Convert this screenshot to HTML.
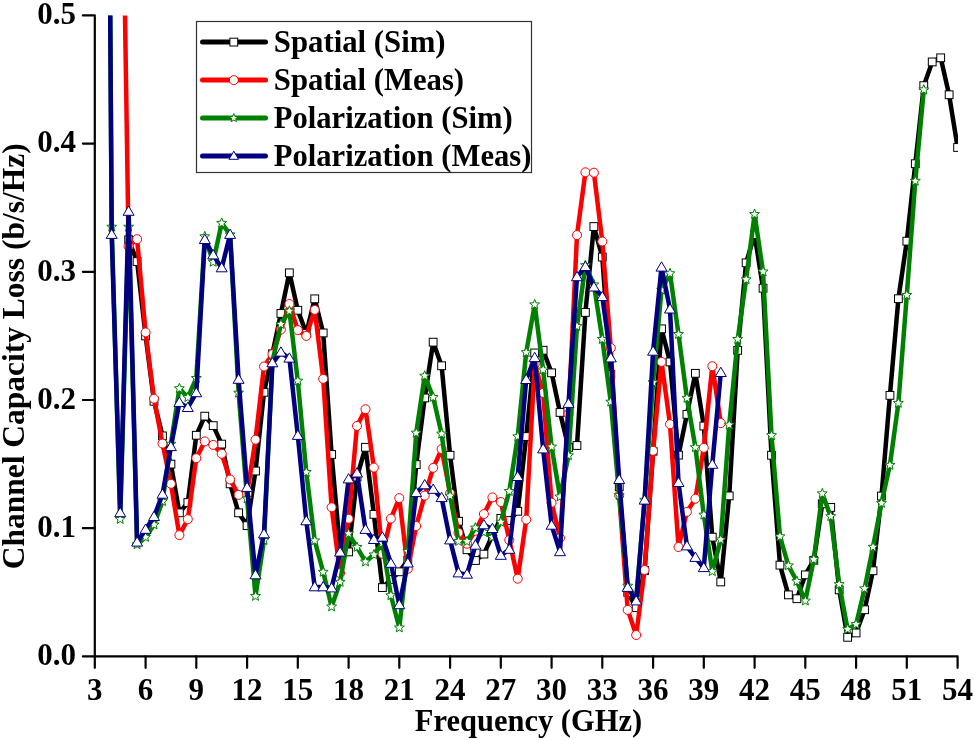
<!DOCTYPE html>
<html><head><meta charset="utf-8"><style>
html,body{margin:0;padding:0;background:#fff;width:975px;height:740px;overflow:hidden}
svg{display:block}
text{font-family:"Liberation Serif","Times New Roman",serif;font-weight:bold;fill:#000}
</style></head><body>
<svg width="975" height="740" viewBox="0 0 975 740">
<defs><clipPath id="c"><rect x="95" y="15.4" width="863" height="641"/></clipPath></defs>

<g stroke="#000" stroke-width="2.2" fill="none" stroke-linecap="round" stroke-linejoin="round">
<path d="M82.9,15.4 H94.8 V667.8 M82.9,656.4 H957.6 V667.8"/>
<line x1="82.9" y1="528.2" x2="94.8" y2="528.2"/>
<line x1="82.9" y1="400.0" x2="94.8" y2="400.0"/>
<line x1="82.9" y1="271.8" x2="94.8" y2="271.8"/>
<line x1="82.9" y1="143.6" x2="94.8" y2="143.6"/>
<line x1="145.6" y1="656.4" x2="145.6" y2="667.8"/>
<line x1="196.3" y1="656.4" x2="196.3" y2="667.8"/>
<line x1="247.1" y1="656.4" x2="247.1" y2="667.8"/>
<line x1="297.8" y1="656.4" x2="297.8" y2="667.8"/>
<line x1="348.6" y1="656.4" x2="348.6" y2="667.8"/>
<line x1="399.3" y1="656.4" x2="399.3" y2="667.8"/>
<line x1="450.1" y1="656.4" x2="450.1" y2="667.8"/>
<line x1="500.8" y1="656.4" x2="500.8" y2="667.8"/>
<line x1="551.6" y1="656.4" x2="551.6" y2="667.8"/>
<line x1="602.3" y1="656.4" x2="602.3" y2="667.8"/>
<line x1="653.1" y1="656.4" x2="653.1" y2="667.8"/>
<line x1="703.8" y1="656.4" x2="703.8" y2="667.8"/>
<line x1="754.6" y1="656.4" x2="754.6" y2="667.8"/>
<line x1="805.3" y1="656.4" x2="805.3" y2="667.8"/>
<line x1="856.1" y1="656.4" x2="856.1" y2="667.8"/>
<line x1="906.8" y1="656.4" x2="906.8" y2="667.8"/>
</g>
<g font-size="31">
<text x="76" y="665.2" text-anchor="end">0.0</text>
<text x="76" y="537.0" text-anchor="end">0.1</text>
<text x="76" y="408.8" text-anchor="end">0.2</text>
<text x="76" y="280.6" text-anchor="end">0.3</text>
<text x="76" y="152.4" text-anchor="end">0.4</text>
<text x="76" y="24.2" text-anchor="end">0.5</text>
<text x="94.8" y="700" text-anchor="middle">3</text>
<text x="145.6" y="700" text-anchor="middle">6</text>
<text x="196.3" y="700" text-anchor="middle">9</text>
<text x="247.1" y="700" text-anchor="middle">12</text>
<text x="297.8" y="700" text-anchor="middle">15</text>
<text x="348.6" y="700" text-anchor="middle">18</text>
<text x="399.3" y="700" text-anchor="middle">21</text>
<text x="450.1" y="700" text-anchor="middle">24</text>
<text x="500.8" y="700" text-anchor="middle">27</text>
<text x="551.6" y="700" text-anchor="middle">30</text>
<text x="602.3" y="700" text-anchor="middle">33</text>
<text x="653.1" y="700" text-anchor="middle">36</text>
<text x="703.8" y="700" text-anchor="middle">39</text>
<text x="754.6" y="700" text-anchor="middle">42</text>
<text x="805.3" y="700" text-anchor="middle">45</text>
<text x="856.1" y="700" text-anchor="middle">48</text>
<text x="906.8" y="700" text-anchor="middle">51</text>
<text x="957.6" y="700" text-anchor="middle">54</text>
</g>
<text x="528.5" y="731" font-size="31" text-anchor="middle" textLength="227.3" lengthAdjust="spacingAndGlyphs">Frequency (GHz)</text>
<text transform="translate(24,356.3) rotate(-90)" font-size="31" text-anchor="middle" textLength="425.9" lengthAdjust="spacingAndGlyphs">Channel Capacity Loss (b/s/Hz)</text>
<g clip-path="url(#c)">
<polyline points="128.6,239.7 137.1,261.5 145.6,335.9 154.0,401.3 162.5,435.9 170.9,464.1 179.4,512.8 187.8,502.6 196.3,435.3 204.8,416.2 213.2,425.6 221.7,444.1 230.1,483.8 238.6,512.8 247.1,525.6 255.5,471.0 264.0,392.3 272.4,353.8 280.9,313.5 289.4,272.8 297.8,310.3 306.3,333.3 314.7,298.9 323.2,333.0 331.6,454.5 340.1,550.0 348.6,551.9 357.0,476.9 365.5,447.3 373.9,514.4 382.4,587.6 390.9,579.5 399.3,571.8 407.8,560.2 416.2,464.6 424.7,397.9 433.2,342.2 441.6,365.8 450.1,455.3 458.5,521.3 467.0,549.7 475.4,560.5 483.9,554.1 492.4,535.3 500.8,518.3 509.3,520.5 517.7,511.3 526.2,436.5 534.7,353.0 543.1,350.3 551.6,372.8 560.0,412.4 568.5,447.4 577.0,445.5 585.4,312.4 593.9,226.5 602.3,257.1 610.8,374.4 619.2,486.8 627.7,592.3 636.2,607.7 644.6,570.5 653.1,451.3 661.5,328.8 670.0,361.9 678.5,455.1 686.9,414.4 695.4,373.3 703.8,426.0 712.3,537.2 720.8,581.9 729.2,495.9 737.7,350.4 746.1,262.8 754.6,234.6 763.0,288.2 771.5,455.3 780.0,565.1 788.4,594.9 796.9,598.7 805.3,574.9 813.8,560.2 822.3,503.8 830.7,507.4 839.2,589.9 847.6,637.3 856.1,632.9 864.6,609.7 873.0,570.8 881.5,496.0 889.9,395.4 898.4,298.7 906.8,241.2 915.3,163.7 923.8,85.7 932.2,61.9 940.7,57.8 949.1,94.8 957.6,147.4" fill="none" stroke="#000000" stroke-width="4.5" stroke-linejoin="round" stroke-linecap="round"/>
<g>
<rect x="124.74" y="235.85" width="7.8" height="7.8" fill="#fff" stroke="#000000" stroke-width="1"/>
<rect x="133.19" y="257.64" width="7.8" height="7.8" fill="#fff" stroke="#000000" stroke-width="1"/>
<rect x="141.65" y="332.00" width="7.8" height="7.8" fill="#fff" stroke="#000000" stroke-width="1"/>
<rect x="150.11" y="397.38" width="7.8" height="7.8" fill="#fff" stroke="#000000" stroke-width="1"/>
<rect x="158.57" y="432.00" width="7.8" height="7.8" fill="#fff" stroke="#000000" stroke-width="1"/>
<rect x="167.03" y="460.20" width="7.8" height="7.8" fill="#fff" stroke="#000000" stroke-width="1"/>
<rect x="175.49" y="508.92" width="7.8" height="7.8" fill="#fff" stroke="#000000" stroke-width="1"/>
<rect x="183.95" y="498.66" width="7.8" height="7.8" fill="#fff" stroke="#000000" stroke-width="1"/>
<rect x="192.41" y="431.36" width="7.8" height="7.8" fill="#fff" stroke="#000000" stroke-width="1"/>
<rect x="200.86" y="412.25" width="7.8" height="7.8" fill="#fff" stroke="#000000" stroke-width="1"/>
<rect x="209.32" y="421.74" width="7.8" height="7.8" fill="#fff" stroke="#000000" stroke-width="1"/>
<rect x="217.78" y="440.20" width="7.8" height="7.8" fill="#fff" stroke="#000000" stroke-width="1"/>
<rect x="226.24" y="479.94" width="7.8" height="7.8" fill="#fff" stroke="#000000" stroke-width="1"/>
<rect x="234.70" y="508.92" width="7.8" height="7.8" fill="#fff" stroke="#000000" stroke-width="1"/>
<rect x="243.16" y="521.74" width="7.8" height="7.8" fill="#fff" stroke="#000000" stroke-width="1"/>
<rect x="251.62" y="467.12" width="7.8" height="7.8" fill="#fff" stroke="#000000" stroke-width="1"/>
<rect x="260.08" y="388.41" width="7.8" height="7.8" fill="#fff" stroke="#000000" stroke-width="1"/>
<rect x="268.54" y="349.95" width="7.8" height="7.8" fill="#fff" stroke="#000000" stroke-width="1"/>
<rect x="276.99" y="309.56" width="7.8" height="7.8" fill="#fff" stroke="#000000" stroke-width="1"/>
<rect x="285.45" y="268.93" width="7.8" height="7.8" fill="#fff" stroke="#000000" stroke-width="1"/>
<rect x="293.91" y="306.36" width="7.8" height="7.8" fill="#fff" stroke="#000000" stroke-width="1"/>
<rect x="302.37" y="329.44" width="7.8" height="7.8" fill="#fff" stroke="#000000" stroke-width="1"/>
<rect x="310.83" y="294.95" width="7.8" height="7.8" fill="#fff" stroke="#000000" stroke-width="1"/>
<rect x="319.29" y="329.05" width="7.8" height="7.8" fill="#fff" stroke="#000000" stroke-width="1"/>
<rect x="327.75" y="450.59" width="7.8" height="7.8" fill="#fff" stroke="#000000" stroke-width="1"/>
<rect x="336.21" y="546.09" width="7.8" height="7.8" fill="#fff" stroke="#000000" stroke-width="1"/>
<rect x="344.66" y="548.02" width="7.8" height="7.8" fill="#fff" stroke="#000000" stroke-width="1"/>
<rect x="353.12" y="473.02" width="7.8" height="7.8" fill="#fff" stroke="#000000" stroke-width="1"/>
<rect x="361.58" y="443.41" width="7.8" height="7.8" fill="#fff" stroke="#000000" stroke-width="1"/>
<rect x="370.04" y="510.45" width="7.8" height="7.8" fill="#fff" stroke="#000000" stroke-width="1"/>
<rect x="378.50" y="583.66" width="7.8" height="7.8" fill="#fff" stroke="#000000" stroke-width="1"/>
<rect x="386.96" y="575.58" width="7.8" height="7.8" fill="#fff" stroke="#000000" stroke-width="1"/>
<rect x="395.42" y="567.89" width="7.8" height="7.8" fill="#fff" stroke="#000000" stroke-width="1"/>
<rect x="403.88" y="556.35" width="7.8" height="7.8" fill="#fff" stroke="#000000" stroke-width="1"/>
<rect x="412.34" y="460.71" width="7.8" height="7.8" fill="#fff" stroke="#000000" stroke-width="1"/>
<rect x="420.79" y="394.05" width="7.8" height="7.8" fill="#fff" stroke="#000000" stroke-width="1"/>
<rect x="429.25" y="338.28" width="7.8" height="7.8" fill="#fff" stroke="#000000" stroke-width="1"/>
<rect x="437.71" y="361.87" width="7.8" height="7.8" fill="#fff" stroke="#000000" stroke-width="1"/>
<rect x="446.17" y="451.35" width="7.8" height="7.8" fill="#fff" stroke="#000000" stroke-width="1"/>
<rect x="454.63" y="517.38" width="7.8" height="7.8" fill="#fff" stroke="#000000" stroke-width="1"/>
<rect x="463.09" y="545.84" width="7.8" height="7.8" fill="#fff" stroke="#000000" stroke-width="1"/>
<rect x="471.55" y="556.61" width="7.8" height="7.8" fill="#fff" stroke="#000000" stroke-width="1"/>
<rect x="480.01" y="550.20" width="7.8" height="7.8" fill="#fff" stroke="#000000" stroke-width="1"/>
<rect x="488.46" y="531.35" width="7.8" height="7.8" fill="#fff" stroke="#000000" stroke-width="1"/>
<rect x="496.92" y="514.43" width="7.8" height="7.8" fill="#fff" stroke="#000000" stroke-width="1"/>
<rect x="505.38" y="516.61" width="7.8" height="7.8" fill="#fff" stroke="#000000" stroke-width="1"/>
<rect x="513.84" y="507.38" width="7.8" height="7.8" fill="#fff" stroke="#000000" stroke-width="1"/>
<rect x="522.30" y="432.64" width="7.8" height="7.8" fill="#fff" stroke="#000000" stroke-width="1"/>
<rect x="530.76" y="349.05" width="7.8" height="7.8" fill="#fff" stroke="#000000" stroke-width="1"/>
<rect x="539.22" y="346.36" width="7.8" height="7.8" fill="#fff" stroke="#000000" stroke-width="1"/>
<rect x="547.68" y="368.92" width="7.8" height="7.8" fill="#fff" stroke="#000000" stroke-width="1"/>
<rect x="556.14" y="408.54" width="7.8" height="7.8" fill="#fff" stroke="#000000" stroke-width="1"/>
<rect x="564.59" y="443.53" width="7.8" height="7.8" fill="#fff" stroke="#000000" stroke-width="1"/>
<rect x="573.05" y="441.61" width="7.8" height="7.8" fill="#fff" stroke="#000000" stroke-width="1"/>
<rect x="581.51" y="308.54" width="7.8" height="7.8" fill="#fff" stroke="#000000" stroke-width="1"/>
<rect x="589.97" y="222.65" width="7.8" height="7.8" fill="#fff" stroke="#000000" stroke-width="1"/>
<rect x="598.43" y="253.16" width="7.8" height="7.8" fill="#fff" stroke="#000000" stroke-width="1"/>
<rect x="606.89" y="370.46" width="7.8" height="7.8" fill="#fff" stroke="#000000" stroke-width="1"/>
<rect x="615.35" y="482.89" width="7.8" height="7.8" fill="#fff" stroke="#000000" stroke-width="1"/>
<rect x="623.81" y="588.40" width="7.8" height="7.8" fill="#fff" stroke="#000000" stroke-width="1"/>
<rect x="632.26" y="603.78" width="7.8" height="7.8" fill="#fff" stroke="#000000" stroke-width="1"/>
<rect x="640.72" y="566.61" width="7.8" height="7.8" fill="#fff" stroke="#000000" stroke-width="1"/>
<rect x="649.18" y="447.38" width="7.8" height="7.8" fill="#fff" stroke="#000000" stroke-width="1"/>
<rect x="657.64" y="324.95" width="7.8" height="7.8" fill="#fff" stroke="#000000" stroke-width="1"/>
<rect x="666.10" y="358.02" width="7.8" height="7.8" fill="#fff" stroke="#000000" stroke-width="1"/>
<rect x="674.56" y="451.23" width="7.8" height="7.8" fill="#fff" stroke="#000000" stroke-width="1"/>
<rect x="683.02" y="410.46" width="7.8" height="7.8" fill="#fff" stroke="#000000" stroke-width="1"/>
<rect x="691.48" y="369.43" width="7.8" height="7.8" fill="#fff" stroke="#000000" stroke-width="1"/>
<rect x="699.94" y="422.12" width="7.8" height="7.8" fill="#fff" stroke="#000000" stroke-width="1"/>
<rect x="708.39" y="533.27" width="7.8" height="7.8" fill="#fff" stroke="#000000" stroke-width="1"/>
<rect x="716.85" y="578.02" width="7.8" height="7.8" fill="#fff" stroke="#000000" stroke-width="1"/>
<rect x="725.31" y="491.99" width="7.8" height="7.8" fill="#fff" stroke="#000000" stroke-width="1"/>
<rect x="733.77" y="346.49" width="7.8" height="7.8" fill="#fff" stroke="#000000" stroke-width="1"/>
<rect x="742.23" y="258.93" width="7.8" height="7.8" fill="#fff" stroke="#000000" stroke-width="1"/>
<rect x="750.69" y="230.72" width="7.8" height="7.8" fill="#fff" stroke="#000000" stroke-width="1"/>
<rect x="759.15" y="284.31" width="7.8" height="7.8" fill="#fff" stroke="#000000" stroke-width="1"/>
<rect x="767.61" y="451.35" width="7.8" height="7.8" fill="#fff" stroke="#000000" stroke-width="1"/>
<rect x="776.06" y="561.22" width="7.8" height="7.8" fill="#fff" stroke="#000000" stroke-width="1"/>
<rect x="784.52" y="590.96" width="7.8" height="7.8" fill="#fff" stroke="#000000" stroke-width="1"/>
<rect x="792.98" y="594.81" width="7.8" height="7.8" fill="#fff" stroke="#000000" stroke-width="1"/>
<rect x="801.44" y="570.96" width="7.8" height="7.8" fill="#fff" stroke="#000000" stroke-width="1"/>
<rect x="809.90" y="556.35" width="7.8" height="7.8" fill="#fff" stroke="#000000" stroke-width="1"/>
<rect x="818.36" y="499.94" width="7.8" height="7.8" fill="#fff" stroke="#000000" stroke-width="1"/>
<rect x="826.82" y="503.53" width="7.8" height="7.8" fill="#fff" stroke="#000000" stroke-width="1"/>
<rect x="835.28" y="585.96" width="7.8" height="7.8" fill="#fff" stroke="#000000" stroke-width="1"/>
<rect x="843.74" y="633.40" width="7.8" height="7.8" fill="#fff" stroke="#000000" stroke-width="1"/>
<rect x="852.19" y="629.04" width="7.8" height="7.8" fill="#fff" stroke="#000000" stroke-width="1"/>
<rect x="860.65" y="605.84" width="7.8" height="7.8" fill="#fff" stroke="#000000" stroke-width="1"/>
<rect x="869.11" y="566.86" width="7.8" height="7.8" fill="#fff" stroke="#000000" stroke-width="1"/>
<rect x="877.57" y="492.12" width="7.8" height="7.8" fill="#fff" stroke="#000000" stroke-width="1"/>
<rect x="886.03" y="391.48" width="7.8" height="7.8" fill="#fff" stroke="#000000" stroke-width="1"/>
<rect x="894.49" y="294.82" width="7.8" height="7.8" fill="#fff" stroke="#000000" stroke-width="1"/>
<rect x="902.95" y="237.26" width="7.8" height="7.8" fill="#fff" stroke="#000000" stroke-width="1"/>
<rect x="911.41" y="159.83" width="7.8" height="7.8" fill="#fff" stroke="#000000" stroke-width="1"/>
<rect x="919.86" y="81.75" width="7.8" height="7.8" fill="#fff" stroke="#000000" stroke-width="1"/>
<rect x="928.32" y="58.04" width="7.8" height="7.8" fill="#fff" stroke="#000000" stroke-width="1"/>
<rect x="936.78" y="53.93" width="7.8" height="7.8" fill="#fff" stroke="#000000" stroke-width="1"/>
<rect x="945.24" y="90.86" width="7.8" height="7.8" fill="#fff" stroke="#000000" stroke-width="1"/>
<rect x="953.70" y="143.55" width="7.8" height="7.8" fill="#fff" stroke="#000000" stroke-width="1"/>
</g>
<polyline points="120.2,-292.3 128.6,246.2 137.1,239.2 145.6,332.4 154.0,398.7 162.5,443.6 170.9,483.8 179.4,535.1 187.8,519.2 196.3,458.2 204.8,441.4 213.2,444.9 221.7,453.8 230.1,479.5 238.6,494.9 247.1,493.6 255.5,439.7 264.0,366.5 272.4,354.2 280.9,329.5 289.4,304.0 297.8,330.1 306.3,335.9 314.7,309.9 323.2,378.8 331.6,507.3 340.1,573.1 348.6,518.8 357.0,425.9 365.5,409.2 373.9,467.6 382.4,553.8 390.9,518.6 399.3,498.1 407.8,568.8 416.2,526.0 424.7,495.6 433.2,467.8 441.6,449.1 450.1,493.3 458.5,532.8 467.0,543.7 475.4,530.8 483.9,514.0 492.4,497.4 500.8,502.0 509.3,540.1 517.7,578.7 526.2,519.6 534.7,364.1 543.1,392.9 551.6,502.7 560.0,538.1 568.5,414.1 577.0,235.1 585.4,172.3 593.9,172.7 602.3,241.5 610.8,348.1 619.2,495.4 627.7,609.9 636.2,635.0 644.6,570.0 653.1,450.8 661.5,361.9 670.0,424.2 678.5,547.0 686.9,511.8 695.4,498.7 703.8,447.9 712.3,366.2 720.8,423.1" fill="none" stroke="#ff0000" stroke-width="4.5" stroke-linejoin="round" stroke-linecap="round"/>
<g>
<circle cx="128.6" cy="246.2" r="4.5" fill="#fff" stroke="#ff0000" stroke-width="1"/>
<circle cx="137.1" cy="239.2" r="4.5" fill="#fff" stroke="#ff0000" stroke-width="1"/>
<circle cx="145.6" cy="332.4" r="4.5" fill="#fff" stroke="#ff0000" stroke-width="1"/>
<circle cx="154.0" cy="398.7" r="4.5" fill="#fff" stroke="#ff0000" stroke-width="1"/>
<circle cx="162.5" cy="443.6" r="4.5" fill="#fff" stroke="#ff0000" stroke-width="1"/>
<circle cx="170.9" cy="483.8" r="4.5" fill="#fff" stroke="#ff0000" stroke-width="1"/>
<circle cx="179.4" cy="535.1" r="4.5" fill="#fff" stroke="#ff0000" stroke-width="1"/>
<circle cx="187.8" cy="519.2" r="4.5" fill="#fff" stroke="#ff0000" stroke-width="1"/>
<circle cx="196.3" cy="458.2" r="4.5" fill="#fff" stroke="#ff0000" stroke-width="1"/>
<circle cx="204.8" cy="441.4" r="4.5" fill="#fff" stroke="#ff0000" stroke-width="1"/>
<circle cx="213.2" cy="444.9" r="4.5" fill="#fff" stroke="#ff0000" stroke-width="1"/>
<circle cx="221.7" cy="453.8" r="4.5" fill="#fff" stroke="#ff0000" stroke-width="1"/>
<circle cx="230.1" cy="479.5" r="4.5" fill="#fff" stroke="#ff0000" stroke-width="1"/>
<circle cx="238.6" cy="494.9" r="4.5" fill="#fff" stroke="#ff0000" stroke-width="1"/>
<circle cx="247.1" cy="493.6" r="4.5" fill="#fff" stroke="#ff0000" stroke-width="1"/>
<circle cx="255.5" cy="439.7" r="4.5" fill="#fff" stroke="#ff0000" stroke-width="1"/>
<circle cx="264.0" cy="366.5" r="4.5" fill="#fff" stroke="#ff0000" stroke-width="1"/>
<circle cx="272.4" cy="354.2" r="4.5" fill="#fff" stroke="#ff0000" stroke-width="1"/>
<circle cx="280.9" cy="329.5" r="4.5" fill="#fff" stroke="#ff0000" stroke-width="1"/>
<circle cx="289.4" cy="304.0" r="4.5" fill="#fff" stroke="#ff0000" stroke-width="1"/>
<circle cx="297.8" cy="330.1" r="4.5" fill="#fff" stroke="#ff0000" stroke-width="1"/>
<circle cx="306.3" cy="335.9" r="4.5" fill="#fff" stroke="#ff0000" stroke-width="1"/>
<circle cx="314.7" cy="309.9" r="4.5" fill="#fff" stroke="#ff0000" stroke-width="1"/>
<circle cx="323.2" cy="378.8" r="4.5" fill="#fff" stroke="#ff0000" stroke-width="1"/>
<circle cx="331.6" cy="507.3" r="4.5" fill="#fff" stroke="#ff0000" stroke-width="1"/>
<circle cx="340.1" cy="573.1" r="4.5" fill="#fff" stroke="#ff0000" stroke-width="1"/>
<circle cx="348.6" cy="518.8" r="4.5" fill="#fff" stroke="#ff0000" stroke-width="1"/>
<circle cx="357.0" cy="425.9" r="4.5" fill="#fff" stroke="#ff0000" stroke-width="1"/>
<circle cx="365.5" cy="409.2" r="4.5" fill="#fff" stroke="#ff0000" stroke-width="1"/>
<circle cx="373.9" cy="467.6" r="4.5" fill="#fff" stroke="#ff0000" stroke-width="1"/>
<circle cx="382.4" cy="553.8" r="4.5" fill="#fff" stroke="#ff0000" stroke-width="1"/>
<circle cx="390.9" cy="518.6" r="4.5" fill="#fff" stroke="#ff0000" stroke-width="1"/>
<circle cx="399.3" cy="498.1" r="4.5" fill="#fff" stroke="#ff0000" stroke-width="1"/>
<circle cx="407.8" cy="568.8" r="4.5" fill="#fff" stroke="#ff0000" stroke-width="1"/>
<circle cx="416.2" cy="526.0" r="4.5" fill="#fff" stroke="#ff0000" stroke-width="1"/>
<circle cx="424.7" cy="495.6" r="4.5" fill="#fff" stroke="#ff0000" stroke-width="1"/>
<circle cx="433.2" cy="467.8" r="4.5" fill="#fff" stroke="#ff0000" stroke-width="1"/>
<circle cx="441.6" cy="449.1" r="4.5" fill="#fff" stroke="#ff0000" stroke-width="1"/>
<circle cx="450.1" cy="493.3" r="4.5" fill="#fff" stroke="#ff0000" stroke-width="1"/>
<circle cx="458.5" cy="532.8" r="4.5" fill="#fff" stroke="#ff0000" stroke-width="1"/>
<circle cx="467.0" cy="543.7" r="4.5" fill="#fff" stroke="#ff0000" stroke-width="1"/>
<circle cx="475.4" cy="530.8" r="4.5" fill="#fff" stroke="#ff0000" stroke-width="1"/>
<circle cx="483.9" cy="514.0" r="4.5" fill="#fff" stroke="#ff0000" stroke-width="1"/>
<circle cx="492.4" cy="497.4" r="4.5" fill="#fff" stroke="#ff0000" stroke-width="1"/>
<circle cx="500.8" cy="502.0" r="4.5" fill="#fff" stroke="#ff0000" stroke-width="1"/>
<circle cx="509.3" cy="540.1" r="4.5" fill="#fff" stroke="#ff0000" stroke-width="1"/>
<circle cx="517.7" cy="578.7" r="4.5" fill="#fff" stroke="#ff0000" stroke-width="1"/>
<circle cx="526.2" cy="519.6" r="4.5" fill="#fff" stroke="#ff0000" stroke-width="1"/>
<circle cx="534.7" cy="364.1" r="4.5" fill="#fff" stroke="#ff0000" stroke-width="1"/>
<circle cx="543.1" cy="392.9" r="4.5" fill="#fff" stroke="#ff0000" stroke-width="1"/>
<circle cx="551.6" cy="502.7" r="4.5" fill="#fff" stroke="#ff0000" stroke-width="1"/>
<circle cx="560.0" cy="538.1" r="4.5" fill="#fff" stroke="#ff0000" stroke-width="1"/>
<circle cx="568.5" cy="414.1" r="4.5" fill="#fff" stroke="#ff0000" stroke-width="1"/>
<circle cx="577.0" cy="235.1" r="4.5" fill="#fff" stroke="#ff0000" stroke-width="1"/>
<circle cx="585.4" cy="172.3" r="4.5" fill="#fff" stroke="#ff0000" stroke-width="1"/>
<circle cx="593.9" cy="172.7" r="4.5" fill="#fff" stroke="#ff0000" stroke-width="1"/>
<circle cx="602.3" cy="241.5" r="4.5" fill="#fff" stroke="#ff0000" stroke-width="1"/>
<circle cx="610.8" cy="348.1" r="4.5" fill="#fff" stroke="#ff0000" stroke-width="1"/>
<circle cx="619.2" cy="495.4" r="4.5" fill="#fff" stroke="#ff0000" stroke-width="1"/>
<circle cx="627.7" cy="609.9" r="4.5" fill="#fff" stroke="#ff0000" stroke-width="1"/>
<circle cx="636.2" cy="635.0" r="4.5" fill="#fff" stroke="#ff0000" stroke-width="1"/>
<circle cx="644.6" cy="570.0" r="4.5" fill="#fff" stroke="#ff0000" stroke-width="1"/>
<circle cx="653.1" cy="450.8" r="4.5" fill="#fff" stroke="#ff0000" stroke-width="1"/>
<circle cx="661.5" cy="361.9" r="4.5" fill="#fff" stroke="#ff0000" stroke-width="1"/>
<circle cx="670.0" cy="424.2" r="4.5" fill="#fff" stroke="#ff0000" stroke-width="1"/>
<circle cx="678.5" cy="547.0" r="4.5" fill="#fff" stroke="#ff0000" stroke-width="1"/>
<circle cx="686.9" cy="511.8" r="4.5" fill="#fff" stroke="#ff0000" stroke-width="1"/>
<circle cx="695.4" cy="498.7" r="4.5" fill="#fff" stroke="#ff0000" stroke-width="1"/>
<circle cx="703.8" cy="447.9" r="4.5" fill="#fff" stroke="#ff0000" stroke-width="1"/>
<circle cx="712.3" cy="366.2" r="4.5" fill="#fff" stroke="#ff0000" stroke-width="1"/>
<circle cx="720.8" cy="423.1" r="4.5" fill="#fff" stroke="#ff0000" stroke-width="1"/>
</g>
<polyline points="103.3,-997.4 111.7,226.9 120.2,519.2 128.6,226.9 137.1,544.5 145.6,537.2 154.0,524.7 162.5,501.3 170.9,444.0 179.4,388.5 187.8,397.4 196.3,378.2 204.8,236.5 213.2,262.1 221.7,223.1 230.1,234.6 238.6,392.9 247.1,498.7 255.5,596.1 264.0,540.3 272.4,361.5 280.9,324.2 289.4,311.0 297.8,380.9 306.3,472.2 314.7,540.6 323.2,572.0 331.6,606.7 340.1,582.0 348.6,533.7 357.0,547.2 365.5,561.8 373.9,554.7 382.4,543.2 390.9,595.5 399.3,627.7 407.8,551.3 416.2,432.9 424.7,375.9 433.2,397.3 441.6,433.8 450.1,495.9 458.5,541.3 467.0,541.4 475.4,527.8 483.9,532.2 492.4,537.2 500.8,522.0 509.3,491.3 517.7,436.5 526.2,352.4 534.7,304.6 543.1,369.7 551.6,446.8 560.0,496.7 568.5,455.5 577.0,326.3 585.4,265.4 593.9,284.6 602.3,339.2 610.8,401.9 619.2,495.4 627.7,585.9 636.2,598.7 644.6,500.0 653.1,382.4 661.5,289.9 670.0,273.5 678.5,334.2 686.9,398.1 695.4,447.4 703.8,514.9 712.3,571.4 720.8,539.7 729.2,424.9 737.7,339.2 746.1,279.5 754.6,214.2 763.0,271.7 771.5,435.4 780.0,536.5 788.4,565.6 796.9,581.3 805.3,600.8 813.8,559.5 822.3,493.6 830.7,516.4 839.2,584.4 847.6,629.2 856.1,624.4 864.6,588.6 873.0,547.0 881.5,503.1 889.9,465.1 898.4,403.1 906.8,295.1 915.3,181.0 923.8,89.8" fill="none" stroke="#008000" stroke-width="4.5" stroke-linejoin="round" stroke-linecap="round"/>
<g>
<polygon points="111.7,221.7 113.1,225.1 116.7,225.3 113.9,227.6 114.8,231.1 111.7,229.2 108.7,231.1 109.5,227.6 106.8,225.3 110.4,225.1" fill="#fff" stroke="#008000" stroke-width="1"/>
<polygon points="120.2,514.0 121.5,517.4 125.1,517.6 122.4,519.9 123.2,523.4 120.2,521.5 117.1,523.4 118.0,519.9 115.2,517.6 118.8,517.4" fill="#fff" stroke="#008000" stroke-width="1"/>
<polygon points="128.6,221.7 130.0,225.1 133.6,225.3 130.8,227.6 131.7,231.1 128.6,229.2 125.6,231.1 126.4,227.6 123.7,225.3 127.3,225.1" fill="#fff" stroke="#008000" stroke-width="1"/>
<polygon points="137.1,539.3 138.4,542.6 142.0,542.9 139.3,545.2 140.2,548.7 137.1,546.8 134.0,548.7 134.9,545.2 132.1,542.9 135.7,542.6" fill="#fff" stroke="#008000" stroke-width="1"/>
<polygon points="145.6,532.0 146.9,535.3 150.5,535.6 147.7,537.9 148.6,541.4 145.6,539.5 142.5,541.4 143.4,537.9 140.6,535.6 144.2,535.3" fill="#fff" stroke="#008000" stroke-width="1"/>
<polygon points="154.0,519.5 155.4,522.9 159.0,523.1 156.2,525.4 157.1,528.9 154.0,527.0 151.0,528.9 151.8,525.4 149.1,523.1 152.7,522.9" fill="#fff" stroke="#008000" stroke-width="1"/>
<polygon points="162.5,496.1 163.8,499.4 167.4,499.7 164.7,502.0 165.5,505.5 162.5,503.6 159.4,505.5 160.3,502.0 157.5,499.7 161.1,499.4" fill="#fff" stroke="#008000" stroke-width="1"/>
<polygon points="170.9,438.8 172.3,442.1 175.9,442.4 173.1,444.7 174.0,448.2 170.9,446.3 167.9,448.2 168.7,444.7 166.0,442.4 169.6,442.1" fill="#fff" stroke="#008000" stroke-width="1"/>
<polygon points="179.4,383.3 180.7,386.6 184.3,386.9 181.6,389.2 182.4,392.7 179.4,390.8 176.3,392.7 177.2,389.2 174.4,386.9 178.0,386.6" fill="#fff" stroke="#008000" stroke-width="1"/>
<polygon points="187.8,392.2 189.2,395.6 192.8,395.8 190.0,398.1 190.9,401.6 187.8,399.7 184.8,401.6 185.7,398.1 182.9,395.8 186.5,395.6" fill="#fff" stroke="#008000" stroke-width="1"/>
<polygon points="196.3,373.0 197.7,376.3 201.3,376.6 198.5,378.9 199.4,382.4 196.3,380.5 193.2,382.4 194.1,378.9 191.4,376.6 195.0,376.3" fill="#fff" stroke="#008000" stroke-width="1"/>
<polygon points="204.8,231.3 206.1,234.7 209.7,234.9 207.0,237.3 207.8,240.8 204.8,238.8 201.7,240.8 202.6,237.3 199.8,234.9 203.4,234.7" fill="#fff" stroke="#008000" stroke-width="1"/>
<polygon points="213.2,256.9 214.6,260.2 218.2,260.4 215.4,262.8 216.3,266.3 213.2,264.4 210.2,266.3 211.0,262.8 208.3,260.4 211.9,260.2" fill="#fff" stroke="#008000" stroke-width="1"/>
<polygon points="221.7,217.9 223.0,221.2 226.6,221.5 223.9,223.8 224.7,227.3 221.7,225.4 218.6,227.3 219.5,223.8 216.7,221.5 220.3,221.2" fill="#fff" stroke="#008000" stroke-width="1"/>
<polygon points="230.1,229.4 231.5,232.8 235.1,233.0 232.3,235.3 233.2,238.8 230.1,236.9 227.1,238.8 228.0,235.3 225.2,233.0 228.8,232.8" fill="#fff" stroke="#008000" stroke-width="1"/>
<polygon points="238.6,387.7 240.0,391.1 243.5,391.3 240.8,393.7 241.7,397.2 238.6,395.2 235.5,397.2 236.4,393.7 233.7,391.3 237.2,391.1" fill="#fff" stroke="#008000" stroke-width="1"/>
<polygon points="247.1,493.5 248.4,496.9 252.0,497.1 249.2,499.4 250.1,502.9 247.1,501.0 244.0,502.9 244.9,499.4 242.1,497.1 245.7,496.9" fill="#fff" stroke="#008000" stroke-width="1"/>
<polygon points="255.5,590.9 256.9,594.3 260.5,594.5 257.7,596.9 258.6,600.4 255.5,598.4 252.5,600.4 253.3,596.9 250.6,594.5 254.2,594.3" fill="#fff" stroke="#008000" stroke-width="1"/>
<polygon points="264.0,535.1 265.3,538.4 268.9,538.6 266.2,541.0 267.0,544.5 264.0,542.6 260.9,544.5 261.8,541.0 259.0,538.6 262.6,538.4" fill="#fff" stroke="#008000" stroke-width="1"/>
<polygon points="272.4,356.3 273.8,359.7 277.4,359.9 274.6,362.3 275.5,365.7 272.4,363.8 269.4,365.7 270.2,362.3 267.5,359.9 271.1,359.7" fill="#fff" stroke="#008000" stroke-width="1"/>
<polygon points="280.9,319.0 282.2,322.4 285.8,322.6 283.1,324.9 284.0,328.4 280.9,326.5 277.8,328.4 278.7,324.9 275.9,322.6 279.5,322.4" fill="#fff" stroke="#008000" stroke-width="1"/>
<polygon points="289.4,305.8 290.7,309.2 294.3,309.4 291.5,311.7 292.4,315.2 289.4,313.3 286.3,315.2 287.2,311.7 284.4,309.4 288.0,309.2" fill="#fff" stroke="#008000" stroke-width="1"/>
<polygon points="297.8,375.7 299.2,379.0 302.8,379.3 300.0,381.6 300.9,385.1 297.8,383.2 294.8,385.1 295.6,381.6 292.9,379.3 296.5,379.0" fill="#fff" stroke="#008000" stroke-width="1"/>
<polygon points="306.3,467.0 307.6,470.3 311.2,470.6 308.5,472.9 309.3,476.4 306.3,474.5 303.2,476.4 304.1,472.9 301.3,470.6 304.9,470.3" fill="#fff" stroke="#008000" stroke-width="1"/>
<polygon points="314.7,535.4 316.1,538.8 319.7,539.0 316.9,541.3 317.8,544.8 314.7,542.9 311.7,544.8 312.5,541.3 309.8,539.0 313.4,538.8" fill="#fff" stroke="#008000" stroke-width="1"/>
<polygon points="323.2,566.8 324.5,570.2 328.1,570.4 325.4,572.8 326.2,576.3 323.2,574.3 320.1,576.3 321.0,572.8 318.2,570.4 321.8,570.2" fill="#fff" stroke="#008000" stroke-width="1"/>
<polygon points="331.6,601.5 333.0,604.8 336.6,605.1 333.8,607.4 334.7,610.9 331.6,609.0 328.6,610.9 329.5,607.4 326.7,605.1 330.3,604.8" fill="#fff" stroke="#008000" stroke-width="1"/>
<polygon points="340.1,576.8 341.5,580.2 345.1,580.4 342.3,582.8 343.2,586.3 340.1,584.3 337.0,586.3 337.9,582.8 335.2,580.4 338.8,580.2" fill="#fff" stroke="#008000" stroke-width="1"/>
<polygon points="348.6,528.5 349.9,531.9 353.5,532.1 350.8,534.4 351.6,537.9 348.6,536.0 345.5,537.9 346.4,534.4 343.6,532.1 347.2,531.9" fill="#fff" stroke="#008000" stroke-width="1"/>
<polygon points="357.0,542.0 358.4,545.3 362.0,545.6 359.2,547.9 360.1,551.4 357.0,549.5 354.0,551.4 354.8,547.9 352.1,545.6 355.7,545.3" fill="#fff" stroke="#008000" stroke-width="1"/>
<polygon points="365.5,556.6 366.8,559.9 370.4,560.2 367.7,562.5 368.5,566.0 365.5,564.1 362.4,566.0 363.3,562.5 360.5,560.2 364.1,559.9" fill="#fff" stroke="#008000" stroke-width="1"/>
<polygon points="373.9,549.5 375.3,552.9 378.9,553.1 376.1,555.4 377.0,558.9 373.9,557.0 370.9,558.9 371.8,555.4 369.0,553.1 372.6,552.9" fill="#fff" stroke="#008000" stroke-width="1"/>
<polygon points="382.4,538.0 383.8,541.3 387.3,541.6 384.6,543.9 385.5,547.4 382.4,545.5 379.3,547.4 380.2,543.9 377.5,541.6 381.0,541.3" fill="#fff" stroke="#008000" stroke-width="1"/>
<polygon points="390.9,590.3 392.2,593.6 395.8,593.9 393.0,596.2 393.9,599.7 390.9,597.8 387.8,599.7 388.7,596.2 385.9,593.9 389.5,593.6" fill="#fff" stroke="#008000" stroke-width="1"/>
<polygon points="399.3,622.5 400.7,625.8 404.3,626.1 401.5,628.4 402.4,631.9 399.3,630.0 396.3,631.9 397.1,628.4 394.4,626.1 398.0,625.8" fill="#fff" stroke="#008000" stroke-width="1"/>
<polygon points="407.8,546.1 409.1,549.4 412.7,549.7 410.0,552.0 410.8,555.5 407.8,553.6 404.7,555.5 405.6,552.0 402.8,549.7 406.4,549.4" fill="#fff" stroke="#008000" stroke-width="1"/>
<polygon points="416.2,427.7 417.6,431.1 421.2,431.3 418.4,433.7 419.3,437.2 416.2,435.2 413.2,437.2 414.0,433.7 411.3,431.3 414.9,431.1" fill="#fff" stroke="#008000" stroke-width="1"/>
<polygon points="424.7,370.7 426.0,374.0 429.6,374.3 426.9,376.6 427.8,380.1 424.7,378.2 421.6,380.1 422.5,376.6 419.7,374.3 423.3,374.0" fill="#fff" stroke="#008000" stroke-width="1"/>
<polygon points="433.2,392.1 434.5,395.4 438.1,395.7 435.3,398.0 436.2,401.5 433.2,399.6 430.1,401.5 431.0,398.0 428.2,395.7 431.8,395.4" fill="#fff" stroke="#008000" stroke-width="1"/>
<polygon points="441.6,428.6 443.0,432.0 446.6,432.2 443.8,434.6 444.7,438.1 441.6,436.1 438.6,438.1 439.4,434.6 436.7,432.2 440.3,432.0" fill="#fff" stroke="#008000" stroke-width="1"/>
<polygon points="450.1,490.7 451.4,494.0 455.0,494.3 452.3,496.6 453.1,500.1 450.1,498.2 447.0,500.1 447.9,496.6 445.1,494.3 448.7,494.0" fill="#fff" stroke="#008000" stroke-width="1"/>
<polygon points="458.5,536.1 459.9,539.4 463.5,539.7 460.7,542.0 461.6,545.5 458.5,543.6 455.5,545.5 456.3,542.0 453.6,539.7 457.2,539.4" fill="#fff" stroke="#008000" stroke-width="1"/>
<polygon points="467.0,536.2 468.3,539.5 471.9,539.8 469.2,542.1 470.0,545.6 467.0,543.7 463.9,545.6 464.8,542.1 462.0,539.8 465.6,539.5" fill="#fff" stroke="#008000" stroke-width="1"/>
<polygon points="475.4,522.6 476.8,526.0 480.4,526.2 477.6,528.5 478.5,532.0 475.4,530.1 472.4,532.0 473.3,528.5 470.5,526.2 474.1,526.0" fill="#fff" stroke="#008000" stroke-width="1"/>
<polygon points="483.9,527.0 485.3,530.3 488.9,530.6 486.1,532.9 487.0,536.4 483.9,534.5 480.8,536.4 481.7,532.9 479.0,530.6 482.6,530.3" fill="#fff" stroke="#008000" stroke-width="1"/>
<polygon points="492.4,532.0 493.7,535.3 497.3,535.6 494.6,537.9 495.4,541.4 492.4,539.5 489.3,541.4 490.2,537.9 487.4,535.6 491.0,535.3" fill="#fff" stroke="#008000" stroke-width="1"/>
<polygon points="500.8,516.8 502.2,520.2 505.8,520.4 503.0,522.8 503.9,526.3 500.8,524.3 497.8,526.3 498.6,522.8 495.9,520.4 499.5,520.2" fill="#fff" stroke="#008000" stroke-width="1"/>
<polygon points="509.3,486.1 510.6,489.4 514.2,489.7 511.5,492.0 512.3,495.5 509.3,493.6 506.2,495.5 507.1,492.0 504.3,489.7 507.9,489.4" fill="#fff" stroke="#008000" stroke-width="1"/>
<polygon points="517.7,431.3 519.1,434.7 522.7,434.9 519.9,437.2 520.8,440.7 517.7,438.8 514.7,440.7 515.6,437.2 512.8,434.9 516.4,434.7" fill="#fff" stroke="#008000" stroke-width="1"/>
<polygon points="526.2,347.2 527.6,350.6 531.1,350.8 528.4,353.1 529.3,356.6 526.2,354.7 523.1,356.6 524.0,353.1 521.3,350.8 524.8,350.6" fill="#fff" stroke="#008000" stroke-width="1"/>
<polygon points="534.7,299.4 536.0,302.8 539.6,303.0 536.8,305.3 537.7,308.8 534.7,306.9 531.6,308.8 532.5,305.3 529.7,303.0 533.3,302.8" fill="#fff" stroke="#008000" stroke-width="1"/>
<polygon points="543.1,364.5 544.5,367.9 548.1,368.1 545.3,370.5 546.2,374.0 543.1,372.0 540.1,374.0 540.9,370.5 538.2,368.1 541.8,367.9" fill="#fff" stroke="#008000" stroke-width="1"/>
<polygon points="551.6,441.6 552.9,444.9 556.5,445.2 553.8,447.5 554.6,451.0 551.6,449.1 548.5,451.0 549.4,447.5 546.6,445.2 550.2,444.9" fill="#fff" stroke="#008000" stroke-width="1"/>
<polygon points="560.0,491.5 561.4,494.8 565.0,495.1 562.2,497.4 563.1,500.9 560.0,499.0 557.0,500.9 557.8,497.4 555.1,495.1 558.7,494.8" fill="#fff" stroke="#008000" stroke-width="1"/>
<polygon points="568.5,450.3 569.8,453.6 573.4,453.9 570.7,456.2 571.6,459.7 568.5,457.8 565.4,459.7 566.3,456.2 563.5,453.9 567.1,453.6" fill="#fff" stroke="#008000" stroke-width="1"/>
<polygon points="577.0,321.1 578.3,324.4 581.9,324.7 579.1,327.0 580.0,330.5 577.0,328.6 573.9,330.5 574.8,327.0 572.0,324.7 575.6,324.4" fill="#fff" stroke="#008000" stroke-width="1"/>
<polygon points="585.4,260.2 586.8,263.5 590.4,263.8 587.6,266.1 588.5,269.6 585.4,267.7 582.4,269.6 583.2,266.1 580.5,263.8 584.1,263.5" fill="#fff" stroke="#008000" stroke-width="1"/>
<polygon points="593.9,279.4 595.2,282.8 598.8,283.0 596.1,285.3 596.9,288.8 593.9,286.9 590.8,288.8 591.7,285.3 588.9,283.0 592.5,282.8" fill="#fff" stroke="#008000" stroke-width="1"/>
<polygon points="602.3,334.0 603.7,337.4 607.3,337.6 604.5,339.9 605.4,343.4 602.3,341.5 599.3,343.4 600.1,339.9 597.4,337.6 601.0,337.4" fill="#fff" stroke="#008000" stroke-width="1"/>
<polygon points="610.8,396.7 612.1,400.1 615.7,400.3 613.0,402.6 613.8,406.1 610.8,404.2 607.7,406.1 608.6,402.6 605.8,400.3 609.4,400.1" fill="#fff" stroke="#008000" stroke-width="1"/>
<polygon points="619.2,490.2 620.6,493.5 624.2,493.8 621.4,496.1 622.3,499.6 619.2,497.7 616.2,499.6 617.1,496.1 614.3,493.8 617.9,493.5" fill="#fff" stroke="#008000" stroke-width="1"/>
<polygon points="627.7,580.7 629.1,584.0 632.7,584.3 629.9,586.6 630.8,590.1 627.7,588.2 624.6,590.1 625.5,586.6 622.8,584.3 626.4,584.0" fill="#fff" stroke="#008000" stroke-width="1"/>
<polygon points="636.2,593.5 637.5,596.8 641.1,597.1 638.4,599.4 639.2,602.9 636.2,601.0 633.1,602.9 634.0,599.4 631.2,597.1 634.8,596.8" fill="#fff" stroke="#008000" stroke-width="1"/>
<polygon points="644.6,494.8 646.0,498.1 649.6,498.4 646.8,500.7 647.7,504.2 644.6,502.3 641.6,504.2 642.4,500.7 639.7,498.4 643.3,498.1" fill="#fff" stroke="#008000" stroke-width="1"/>
<polygon points="653.1,377.2 654.4,380.6 658.0,380.8 655.3,383.1 656.1,386.6 653.1,384.7 650.0,386.6 650.9,383.1 648.1,380.8 651.7,380.6" fill="#fff" stroke="#008000" stroke-width="1"/>
<polygon points="661.5,284.7 662.9,288.0 666.5,288.3 663.7,290.6 664.6,294.1 661.5,292.2 658.5,294.1 659.4,290.6 656.6,288.3 660.2,288.0" fill="#fff" stroke="#008000" stroke-width="1"/>
<polygon points="670.0,268.3 671.4,271.6 674.9,271.9 672.2,274.2 673.1,277.7 670.0,275.8 666.9,277.7 667.8,274.2 665.1,271.9 668.6,271.6" fill="#fff" stroke="#008000" stroke-width="1"/>
<polygon points="678.5,329.0 679.8,332.4 683.4,332.6 680.6,334.9 681.5,338.4 678.5,336.5 675.4,338.4 676.3,334.9 673.5,332.6 677.1,332.4" fill="#fff" stroke="#008000" stroke-width="1"/>
<polygon points="686.9,392.9 688.3,396.2 691.9,396.5 689.1,398.8 690.0,402.3 686.9,400.4 683.9,402.3 684.7,398.8 682.0,396.5 685.6,396.2" fill="#fff" stroke="#008000" stroke-width="1"/>
<polygon points="695.4,442.2 696.7,445.6 700.3,445.8 697.6,448.1 698.4,451.6 695.4,449.7 692.3,451.6 693.2,448.1 690.4,445.8 694.0,445.6" fill="#fff" stroke="#008000" stroke-width="1"/>
<polygon points="703.8,509.7 705.2,513.0 708.8,513.3 706.0,515.6 706.9,519.1 703.8,517.2 700.8,519.1 701.6,515.6 698.9,513.3 702.5,513.0" fill="#fff" stroke="#008000" stroke-width="1"/>
<polygon points="712.3,566.2 713.6,569.5 717.2,569.8 714.5,572.1 715.4,575.6 712.3,573.7 709.2,575.6 710.1,572.1 707.3,569.8 710.9,569.5" fill="#fff" stroke="#008000" stroke-width="1"/>
<polygon points="720.8,534.5 722.1,537.9 725.7,538.1 722.9,540.4 723.8,543.9 720.8,542.0 717.7,543.9 718.6,540.4 715.8,538.1 719.4,537.9" fill="#fff" stroke="#008000" stroke-width="1"/>
<polygon points="729.2,419.7 730.6,423.0 734.2,423.3 731.4,425.6 732.3,429.1 729.2,427.2 726.2,429.1 727.0,425.6 724.3,423.3 727.9,423.0" fill="#fff" stroke="#008000" stroke-width="1"/>
<polygon points="737.7,334.0 739.0,337.4 742.6,337.6 739.9,339.9 740.7,343.4 737.7,341.5 734.6,343.4 735.5,339.9 732.7,337.6 736.3,337.4" fill="#fff" stroke="#008000" stroke-width="1"/>
<polygon points="746.1,274.3 747.5,277.6 751.1,277.9 748.3,280.2 749.2,283.7 746.1,281.8 743.1,283.7 743.9,280.2 741.2,277.9 744.8,277.6" fill="#fff" stroke="#008000" stroke-width="1"/>
<polygon points="754.6,209.0 755.9,212.4 759.5,212.6 756.8,214.9 757.6,218.4 754.6,216.5 751.5,218.4 752.4,214.9 749.6,212.6 753.2,212.4" fill="#fff" stroke="#008000" stroke-width="1"/>
<polygon points="763.0,266.5 764.4,269.8 768.0,270.1 765.2,272.4 766.1,275.9 763.0,274.0 760.0,275.9 760.9,272.4 758.1,270.1 761.7,269.8" fill="#fff" stroke="#008000" stroke-width="1"/>
<polygon points="771.5,430.2 772.9,433.5 776.5,433.8 773.7,436.1 774.6,439.6 771.5,437.7 768.4,439.6 769.3,436.1 766.6,433.8 770.2,433.5" fill="#fff" stroke="#008000" stroke-width="1"/>
<polygon points="780.0,531.3 781.3,534.7 784.9,534.9 782.2,537.2 783.0,540.7 780.0,538.8 776.9,540.7 777.8,537.2 775.0,534.9 778.6,534.7" fill="#fff" stroke="#008000" stroke-width="1"/>
<polygon points="788.4,560.4 789.8,563.8 793.4,564.0 790.6,566.3 791.5,569.8 788.4,567.9 785.4,569.8 786.2,566.3 783.5,564.0 787.1,563.8" fill="#fff" stroke="#008000" stroke-width="1"/>
<polygon points="796.9,576.1 798.2,579.4 801.8,579.7 799.1,582.0 799.9,585.5 796.9,583.6 793.8,585.5 794.7,582.0 791.9,579.7 795.5,579.4" fill="#fff" stroke="#008000" stroke-width="1"/>
<polygon points="805.3,595.6 806.7,598.9 810.3,599.2 807.5,601.5 808.4,605.0 805.3,603.1 802.3,605.0 803.2,601.5 800.4,599.2 804.0,598.9" fill="#fff" stroke="#008000" stroke-width="1"/>
<polygon points="813.8,554.3 815.2,557.6 818.7,557.9 816.0,560.2 816.9,563.7 813.8,561.8 810.7,563.7 811.6,560.2 808.9,557.9 812.4,557.6" fill="#fff" stroke="#008000" stroke-width="1"/>
<polygon points="822.3,488.4 823.6,491.7 827.2,492.0 824.4,494.3 825.3,497.8 822.3,495.9 819.2,497.8 820.1,494.3 817.3,492.0 820.9,491.7" fill="#fff" stroke="#008000" stroke-width="1"/>
<polygon points="830.7,511.2 832.1,514.5 835.7,514.8 832.9,517.1 833.8,520.6 830.7,518.7 827.7,520.6 828.5,517.1 825.8,514.8 829.4,514.5" fill="#fff" stroke="#008000" stroke-width="1"/>
<polygon points="839.2,579.2 840.5,582.5 844.1,582.7 841.4,585.1 842.2,588.6 839.2,586.7 836.1,588.6 837.0,585.1 834.2,582.7 837.8,582.5" fill="#fff" stroke="#008000" stroke-width="1"/>
<polygon points="847.6,624.0 849.0,627.4 852.6,627.6 849.8,629.9 850.7,633.4 847.6,631.5 844.6,633.4 845.4,629.9 842.7,627.6 846.3,627.4" fill="#fff" stroke="#008000" stroke-width="1"/>
<polygon points="856.1,619.1 857.4,622.5 861.0,622.7 858.3,625.1 859.2,628.6 856.1,626.6 853.0,628.6 853.9,625.1 851.1,622.7 854.7,622.5" fill="#fff" stroke="#008000" stroke-width="1"/>
<polygon points="864.6,583.4 865.9,586.7 869.5,587.0 866.7,589.3 867.6,592.8 864.6,590.9 861.5,592.8 862.4,589.3 859.6,587.0 863.2,586.7" fill="#fff" stroke="#008000" stroke-width="1"/>
<polygon points="873.0,541.8 874.4,545.2 878.0,545.4 875.2,547.8 876.1,551.3 873.0,549.3 870.0,551.3 870.8,547.8 868.1,545.4 871.7,545.2" fill="#fff" stroke="#008000" stroke-width="1"/>
<polygon points="881.5,497.9 882.8,501.2 886.4,501.5 883.7,503.8 884.5,507.3 881.5,505.4 878.4,507.3 879.3,503.8 876.5,501.5 880.1,501.2" fill="#fff" stroke="#008000" stroke-width="1"/>
<polygon points="889.9,459.9 891.3,463.3 894.9,463.5 892.1,465.8 893.0,469.3 889.9,467.4 886.9,469.3 887.7,465.8 885.0,463.5 888.6,463.3" fill="#fff" stroke="#008000" stroke-width="1"/>
<polygon points="898.4,397.9 899.7,401.2 903.3,401.5 900.6,403.8 901.4,407.3 898.4,405.4 895.3,407.3 896.2,403.8 893.4,401.5 897.0,401.2" fill="#fff" stroke="#008000" stroke-width="1"/>
<polygon points="906.8,289.9 908.2,293.3 911.8,293.5 909.0,295.8 909.9,299.3 906.8,297.4 903.8,299.3 904.7,295.8 901.9,293.5 905.5,293.3" fill="#fff" stroke="#008000" stroke-width="1"/>
<polygon points="915.3,175.8 916.7,179.2 920.3,179.4 917.5,181.7 918.4,185.2 915.3,183.3 912.2,185.2 913.1,181.7 910.4,179.4 914.0,179.2" fill="#fff" stroke="#008000" stroke-width="1"/>
<polygon points="923.8,84.6 925.1,87.9 928.7,88.1 926.0,90.5 926.8,94.0 923.8,92.1 920.7,94.0 921.6,90.5 918.8,88.1 922.4,87.9" fill="#fff" stroke="#008000" stroke-width="1"/>
</g>
<polyline points="103.3,-997.4 111.7,234.6 120.2,512.9 128.6,211.5 137.1,542.3 145.6,529.5 154.0,516.7 162.5,494.4 170.9,446.8 179.4,402.6 187.8,407.7 196.3,392.9 204.8,239.7 213.2,255.1 221.7,268.0 230.1,234.6 238.6,379.5 247.1,487.6 255.5,575.0 264.0,534.0 272.4,363.0 280.9,352.3 289.4,358.3 297.8,435.6 306.3,521.0 314.7,587.0 323.2,587.0 331.6,588.1 340.1,552.3 348.6,479.1 357.0,473.2 365.5,529.6 373.9,539.7 382.4,537.3 390.9,563.5 399.3,604.9 407.8,563.2 416.2,492.8 424.7,485.0 433.2,489.5 441.6,497.8 450.1,540.1 458.5,573.1 467.0,574.4 475.4,545.4 483.9,525.0 492.4,528.7 500.8,555.5 509.3,549.5 517.7,476.7 526.2,379.7 534.7,357.8 543.1,449.1 551.6,525.4 560.0,551.9 568.5,403.6 577.0,276.9 585.4,266.7 593.9,287.2 602.3,296.8 610.8,358.1 619.2,479.7 627.7,587.6 636.2,601.1 644.6,500.3 653.1,351.4 661.5,267.3 670.0,309.2 678.5,482.7 686.9,546.1 695.4,557.6 703.8,567.8 712.3,464.5 720.8,372.7" fill="none" stroke="#000080" stroke-width="4.5" stroke-linejoin="round" stroke-linecap="round"/>
<g>
<polygon points="111.7,229.1 117.2,238.4 106.2,238.4" fill="#fff" stroke="#000080" stroke-width="1"/>
<polygon points="120.2,507.4 125.7,516.7 114.7,516.7" fill="#fff" stroke="#000080" stroke-width="1"/>
<polygon points="128.6,206.0 134.1,215.3 123.1,215.3" fill="#fff" stroke="#000080" stroke-width="1"/>
<polygon points="137.1,536.8 142.6,546.1 131.6,546.1" fill="#fff" stroke="#000080" stroke-width="1"/>
<polygon points="145.6,524.0 151.1,533.3 140.1,533.3" fill="#fff" stroke="#000080" stroke-width="1"/>
<polygon points="154.0,511.2 159.5,520.5 148.5,520.5" fill="#fff" stroke="#000080" stroke-width="1"/>
<polygon points="162.5,488.9 168.0,498.2 157.0,498.2" fill="#fff" stroke="#000080" stroke-width="1"/>
<polygon points="170.9,441.3 176.4,450.6 165.4,450.6" fill="#fff" stroke="#000080" stroke-width="1"/>
<polygon points="179.4,397.1 184.9,406.4 173.9,406.4" fill="#fff" stroke="#000080" stroke-width="1"/>
<polygon points="187.8,402.2 193.3,411.5 182.3,411.5" fill="#fff" stroke="#000080" stroke-width="1"/>
<polygon points="196.3,387.4 201.8,396.7 190.8,396.7" fill="#fff" stroke="#000080" stroke-width="1"/>
<polygon points="204.8,234.2 210.3,243.5 199.3,243.5" fill="#fff" stroke="#000080" stroke-width="1"/>
<polygon points="213.2,249.6 218.7,258.9 207.7,258.9" fill="#fff" stroke="#000080" stroke-width="1"/>
<polygon points="221.7,262.5 227.2,271.8 216.2,271.8" fill="#fff" stroke="#000080" stroke-width="1"/>
<polygon points="230.1,229.1 235.6,238.4 224.6,238.4" fill="#fff" stroke="#000080" stroke-width="1"/>
<polygon points="238.6,374.0 244.1,383.3 233.1,383.3" fill="#fff" stroke="#000080" stroke-width="1"/>
<polygon points="247.1,482.1 252.6,491.4 241.6,491.4" fill="#fff" stroke="#000080" stroke-width="1"/>
<polygon points="255.5,569.5 261.0,578.8 250.0,578.8" fill="#fff" stroke="#000080" stroke-width="1"/>
<polygon points="264.0,528.5 269.5,537.8 258.5,537.8" fill="#fff" stroke="#000080" stroke-width="1"/>
<polygon points="272.4,357.5 277.9,366.8 266.9,366.8" fill="#fff" stroke="#000080" stroke-width="1"/>
<polygon points="280.9,346.8 286.4,356.1 275.4,356.1" fill="#fff" stroke="#000080" stroke-width="1"/>
<polygon points="289.4,352.8 294.9,362.1 283.9,362.1" fill="#fff" stroke="#000080" stroke-width="1"/>
<polygon points="297.8,430.1 303.3,439.4 292.3,439.4" fill="#fff" stroke="#000080" stroke-width="1"/>
<polygon points="306.3,515.5 311.8,524.8 300.8,524.8" fill="#fff" stroke="#000080" stroke-width="1"/>
<polygon points="314.7,581.5 320.2,590.8 309.2,590.8" fill="#fff" stroke="#000080" stroke-width="1"/>
<polygon points="323.2,581.5 328.7,590.8 317.7,590.8" fill="#fff" stroke="#000080" stroke-width="1"/>
<polygon points="331.6,582.6 337.1,591.9 326.1,591.9" fill="#fff" stroke="#000080" stroke-width="1"/>
<polygon points="340.1,546.8 345.6,556.1 334.6,556.1" fill="#fff" stroke="#000080" stroke-width="1"/>
<polygon points="348.6,473.6 354.1,482.9 343.1,482.9" fill="#fff" stroke="#000080" stroke-width="1"/>
<polygon points="357.0,467.7 362.5,477.0 351.5,477.0" fill="#fff" stroke="#000080" stroke-width="1"/>
<polygon points="365.5,524.1 371.0,533.4 360.0,533.4" fill="#fff" stroke="#000080" stroke-width="1"/>
<polygon points="373.9,534.2 379.4,543.5 368.4,543.5" fill="#fff" stroke="#000080" stroke-width="1"/>
<polygon points="382.4,531.8 387.9,541.1 376.9,541.1" fill="#fff" stroke="#000080" stroke-width="1"/>
<polygon points="390.9,558.0 396.4,567.3 385.4,567.3" fill="#fff" stroke="#000080" stroke-width="1"/>
<polygon points="399.3,599.4 404.8,608.7 393.8,608.7" fill="#fff" stroke="#000080" stroke-width="1"/>
<polygon points="407.8,557.7 413.3,567.0 402.3,567.0" fill="#fff" stroke="#000080" stroke-width="1"/>
<polygon points="416.2,487.3 421.7,496.6 410.7,496.6" fill="#fff" stroke="#000080" stroke-width="1"/>
<polygon points="424.7,479.5 430.2,488.8 419.2,488.8" fill="#fff" stroke="#000080" stroke-width="1"/>
<polygon points="433.2,484.0 438.7,493.3 427.7,493.3" fill="#fff" stroke="#000080" stroke-width="1"/>
<polygon points="441.6,492.3 447.1,501.6 436.1,501.6" fill="#fff" stroke="#000080" stroke-width="1"/>
<polygon points="450.1,534.6 455.6,543.9 444.6,543.9" fill="#fff" stroke="#000080" stroke-width="1"/>
<polygon points="458.5,567.6 464.0,576.9 453.0,576.9" fill="#fff" stroke="#000080" stroke-width="1"/>
<polygon points="467.0,568.9 472.5,578.2 461.5,578.2" fill="#fff" stroke="#000080" stroke-width="1"/>
<polygon points="475.4,539.9 480.9,549.2 469.9,549.2" fill="#fff" stroke="#000080" stroke-width="1"/>
<polygon points="483.9,519.5 489.4,528.8 478.4,528.8" fill="#fff" stroke="#000080" stroke-width="1"/>
<polygon points="492.4,523.2 497.9,532.5 486.9,532.5" fill="#fff" stroke="#000080" stroke-width="1"/>
<polygon points="500.8,550.0 506.3,559.3 495.3,559.3" fill="#fff" stroke="#000080" stroke-width="1"/>
<polygon points="509.3,544.0 514.8,553.3 503.8,553.3" fill="#fff" stroke="#000080" stroke-width="1"/>
<polygon points="517.7,471.2 523.2,480.5 512.2,480.5" fill="#fff" stroke="#000080" stroke-width="1"/>
<polygon points="526.2,374.2 531.7,383.5 520.7,383.5" fill="#fff" stroke="#000080" stroke-width="1"/>
<polygon points="534.7,352.3 540.2,361.6 529.2,361.6" fill="#fff" stroke="#000080" stroke-width="1"/>
<polygon points="543.1,443.6 548.6,452.9 537.6,452.9" fill="#fff" stroke="#000080" stroke-width="1"/>
<polygon points="551.6,519.9 557.1,529.2 546.1,529.2" fill="#fff" stroke="#000080" stroke-width="1"/>
<polygon points="560.0,546.4 565.5,555.7 554.5,555.7" fill="#fff" stroke="#000080" stroke-width="1"/>
<polygon points="568.5,398.1 574.0,407.4 563.0,407.4" fill="#fff" stroke="#000080" stroke-width="1"/>
<polygon points="577.0,271.4 582.5,280.7 571.5,280.7" fill="#fff" stroke="#000080" stroke-width="1"/>
<polygon points="585.4,261.2 590.9,270.5 579.9,270.5" fill="#fff" stroke="#000080" stroke-width="1"/>
<polygon points="593.9,281.7 599.4,291.0 588.4,291.0" fill="#fff" stroke="#000080" stroke-width="1"/>
<polygon points="602.3,291.3 607.8,300.6 596.8,300.6" fill="#fff" stroke="#000080" stroke-width="1"/>
<polygon points="610.8,352.6 616.3,361.9 605.3,361.9" fill="#fff" stroke="#000080" stroke-width="1"/>
<polygon points="619.2,474.2 624.7,483.5 613.7,483.5" fill="#fff" stroke="#000080" stroke-width="1"/>
<polygon points="627.7,582.1 633.2,591.4 622.2,591.4" fill="#fff" stroke="#000080" stroke-width="1"/>
<polygon points="636.2,595.6 641.7,604.9 630.7,604.9" fill="#fff" stroke="#000080" stroke-width="1"/>
<polygon points="644.6,494.8 650.1,504.1 639.1,504.1" fill="#fff" stroke="#000080" stroke-width="1"/>
<polygon points="653.1,345.9 658.6,355.2 647.6,355.2" fill="#fff" stroke="#000080" stroke-width="1"/>
<polygon points="661.5,261.8 667.0,271.1 656.0,271.1" fill="#fff" stroke="#000080" stroke-width="1"/>
<polygon points="670.0,303.7 675.5,313.0 664.5,313.0" fill="#fff" stroke="#000080" stroke-width="1"/>
<polygon points="678.5,477.2 684.0,486.5 673.0,486.5" fill="#fff" stroke="#000080" stroke-width="1"/>
<polygon points="686.9,540.6 692.4,549.9 681.4,549.9" fill="#fff" stroke="#000080" stroke-width="1"/>
<polygon points="695.4,552.1 700.9,561.4 689.9,561.4" fill="#fff" stroke="#000080" stroke-width="1"/>
<polygon points="703.8,562.3 709.3,571.6 698.3,571.6" fill="#fff" stroke="#000080" stroke-width="1"/>
<polygon points="712.3,459.0 717.8,468.3 706.8,468.3" fill="#fff" stroke="#000080" stroke-width="1"/>
<polygon points="720.8,367.2 726.3,376.5 715.3,376.5" fill="#fff" stroke="#000080" stroke-width="1"/>
</g>
</g>
<rect x="196.5" y="21.5" width="335" height="151" fill="#fff" stroke="#333" stroke-width="1.2"/>
<line x1="202.5" y1="42.1" x2="265.5" y2="42.1" stroke="#000000" stroke-width="5" stroke-linecap="round"/>
<rect x="229.90" y="38.20" width="7.8" height="7.8" fill="#fff" stroke="#000000" stroke-width="1"/>
<text x="273.8" y="52.0" font-size="31" textLength="171.8" lengthAdjust="spacingAndGlyphs">Spatial (Sim)</text>
<line x1="202.5" y1="80.1" x2="265.5" y2="80.1" stroke="#ff0000" stroke-width="5" stroke-linecap="round"/>
<circle cx="233.8" cy="80.1" r="4.5" fill="#fff" stroke="#ff0000" stroke-width="1"/>
<text x="273.8" y="90.0" font-size="31" textLength="190.3" lengthAdjust="spacingAndGlyphs">Spatial (Meas)</text>
<line x1="202.5" y1="118.0" x2="265.5" y2="118.0" stroke="#008000" stroke-width="5" stroke-linecap="round"/>
<polygon points="233.8,113.5 235.0,116.4 238.1,116.6 235.7,118.6 236.5,121.7 233.8,120.0 231.1,121.7 231.9,118.6 229.5,116.6 232.6,116.4" fill="#fff" stroke="#008000" stroke-width="1"/>
<text x="273.8" y="127.9" font-size="31" textLength="238.8" lengthAdjust="spacingAndGlyphs">Polarization (Sim)</text>
<line x1="202.5" y1="156.0" x2="265.5" y2="156.0" stroke="#000080" stroke-width="5" stroke-linecap="round"/>
<polygon points="233.8,151.2 238.6,159.3 229.0,159.3" fill="#fff" stroke="#000080" stroke-width="1"/>
<text x="273.8" y="165.9" font-size="31" textLength="257.6" lengthAdjust="spacingAndGlyphs">Polarization (Meas)</text>
</svg></body></html>
